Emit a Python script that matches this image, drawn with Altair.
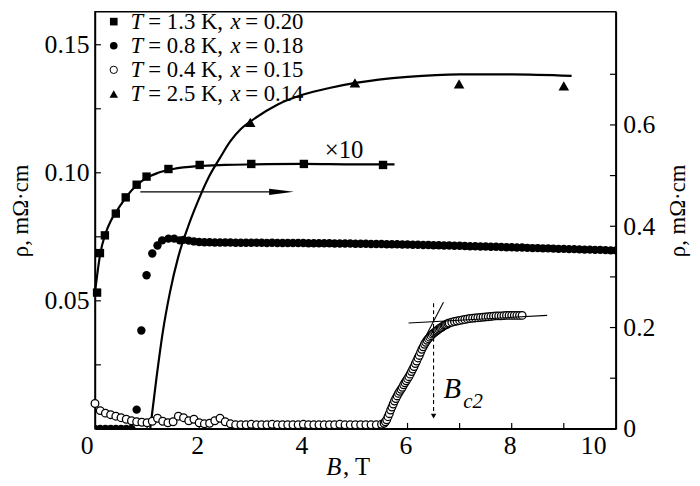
import altair as alt
import pandas as pd

FONT = "Liberation Serif"

# ---------------- data ----------------
# squares: T = 1.3 K, x = 0.20 (right axis, x10)
sq_B = [0.04, 0.095, 0.19, 0.40, 0.59, 0.80, 0.99, 1.41, 2.01, 3.00, 4.01, 5.53]
sq_rho = [0.269, 0.347, 0.382, 0.425, 0.457, 0.482, 0.498, 0.513, 0.521, 0.523, 0.523, 0.521]
sqfit_B = [0.0, 0.05, 0.1, 0.2, 0.3, 0.4, 0.5, 0.6, 0.8, 1.0, 1.2, 1.5, 2.0, 2.5, 3.0, 4.0, 5.0, 5.75]
sqfit_rho = [0.27, 0.31, 0.345, 0.385, 0.41, 0.427, 0.443, 0.458, 0.481, 0.496, 0.505, 0.513,
             0.519, 0.521, 0.522, 0.523, 0.522, 0.522]

# triangles: T = 2.5 K, x = 0.14 (right axis)
tri_B = [2.98, 4.99, 6.99, 9.00]
tri_rho = [0.605, 0.683, 0.681, 0.677]
trifit_B = [1.06, 1.18, 1.3, 1.44, 1.6, 1.79, 2.0, 2.2, 2.4, 2.6, 2.8, 3.0, 3.5, 4.0, 4.5,
            5.0, 6.0, 7.0, 8.0, 9.15]
trifit_rho = [0.0, 0.10, 0.19, 0.27, 0.34, 0.40, 0.455, 0.50, 0.535, 0.568, 0.592, 0.608,
              0.640, 0.660, 0.673, 0.683, 0.695, 0.700, 0.700, 0.697]

# filled circles: T = 0.8 K, x = 0.18 (left axis)
fc_B_early = [0.0, 0.1, 0.2, 0.3, 0.4, 0.5, 0.6, 0.7, 0.80, 0.89, 0.99, 1.10, 1.20, 1.29, 1.41, 1.52, 1.63]
fc_rho_early = [0, 0, 0, 0, 0, 0, 0, 0, 0.0075, 0.0384, 0.060, 0.0685, 0.0716, 0.0736, 0.0743, 0.0743, 0.0736]
fc_rho_band = [
    0.0738, 0.0735, 0.0732, 0.0730, 0.0729, 0.0729, 0.0728, 0.0728, 0.0728, 0.0728,
    0.0727, 0.0727, 0.0727, 0.0727, 0.0727, 0.0727, 0.0726, 0.0727, 0.0726, 0.0726,
    0.0726, 0.0726, 0.0726, 0.0726, 0.0725, 0.0725, 0.0725, 0.0725, 0.0725, 0.0724,
    0.0724, 0.0724, 0.0724, 0.0723, 0.0723, 0.0723, 0.0722, 0.0722, 0.0722, 0.0721,
    0.0721, 0.0721, 0.0720, 0.0720, 0.0719, 0.0719, 0.0718, 0.0718, 0.0717, 0.0717,
    0.0716, 0.0716, 0.0715, 0.0715, 0.0714, 0.0713, 0.0713, 0.0712, 0.0712, 0.0711,
    0.0711, 0.0710, 0.0709, 0.0709, 0.0708, 0.0708, 0.0707, 0.0706, 0.0706, 0.0705,
    0.0705, 0.0704, 0.0703, 0.0703, 0.0702, 0.0702, 0.0701, 0.0700, 0.0700, 0.0699,
    0.0699, 0.0698, 0.0697, 0.0697]
fc_B_band = [round(1.7 + 0.1 * i, 2) for i in range(len(fc_rho_band))]

# open circles: T = 0.4 K, x = 0.15 (right axis)
oc_rho_low = [
    0.050, 0.036, 0.031, 0.028, 0.025, 0.022, 0.019, 0.016, 0.014, 0.013,
    0.012, 0.015, 0.021, 0.015, 0.012, 0.014, 0.025, 0.022, 0.016, 0.019,
    0.012, 0.010, 0.011, 0.016, 0.021, 0.014, 0.010, 0.008, 0.008, 0.008,
    0.009, 0.008, 0.008, 0.008, 0.009, 0.008, 0.008, 0.008, 0.008, 0.008,
    0.009, 0.008, 0.008, 0.008, 0.008, 0.008, 0.008, 0.009, 0.008, 0.008,
    0.008, 0.008, 0.008, 0.008, 0.008, 0.009]
oc_B_low = [round(0.1 * i, 2) for i in range(len(oc_rho_low))]
oc_rho_rise_a = [
    0.011, 0.014, 0.018, 0.024, 0.030, 0.037, 0.043, 0.049, 0.055, 0.060,
    0.065, 0.070, 0.074, 0.078, 0.082, 0.087, 0.091, 0.095, 0.099, 0.103,
    0.108, 0.113, 0.118, 0.123, 0.129, 0.134, 0.140, 0.145, 0.151, 0.157,
    0.162, 0.167, 0.171, 0.175, 0.178, 0.181, 0.184, 0.187, 0.189, 0.191,
    0.193, 0.195, 0.197, 0.199, 0.200, 0.202, 0.204, 0.205, 0.206, 0.208,
    0.209]
oc_B_rise_a = [round(5.55 + 0.025 * i, 3) for i in range(len(oc_rho_rise_a))]
oc_rho_rise_b = [
    0.2105, 0.212, 0.213, 0.214, 0.215, 0.216, 0.217, 0.218, 0.2185, 0.219,
    0.2195, 0.220, 0.2205, 0.221, 0.2215, 0.222, 0.2225, 0.223, 0.223, 0.223,
    0.2235, 0.224, 0.224, 0.224, 0.224, 0.224, 0.224, 0.224]
oc_B_rise_b = [round(6.85 + 0.05 * i, 2) for i in range(len(oc_rho_rise_b))]

# Bc2 construction
tan_B = [6.02, 8.68]
tan_rho = [0.209, 0.224]
slope_B = [6.34, 6.69]
slope_rho = [0.181, 0.250]
bc2_B = 6.50
bc2_rho = [0.248, 0.03]

# legend text
leg_T = ["1.3", "0.8", "0.4", "2.5"]
leg_x = ["0.20", "0.18", "0.15", "0.14"]
leg_shape = ["square", "circle", "circle", "triangle-up"]
leg_filled = [True, True, False, True]

x_ticks = [0, 2, 4, 6, 8, 10]
x_minor = [1, 3, 5, 7, 9]
yl_ticks = [0.05, 0.10, 0.15]
yl_minor = [0.025, 0.075, 0.125]
yr_ticks = [0, 0.2, 0.4, 0.6]
yr_minor = [0.1, 0.3, 0.5, 0.7]

# ---------------- layout ----------------
W, H = 527, 422
XS = alt.Scale(domain=[0, 10], nice=False, zero=False)
YL = alt.Scale(domain=[0, 0.1629], nice=False, zero=False)
YR = alt.Scale(domain=[0, 0.8235], nice=False, zero=False)

common_ax = dict(ticks=False, grid=False, labelFont=FONT, labelFontSize=26, labelColor="black",
                 domainColor="black", domainWidth=1.5)
XA = alt.Axis(values=x_ticks, format="d", labelPadding=4, title=None,
              labelAlign={"condition": {"test": "datum.value == 0 || datum.value == 10", "value": "right"},
                          "value": "center"},
              labelOffset={"condition": {"test": "datum.value == 10", "value": -10}, "value": -2},
              labelFlush=False, **common_ax)
ytitle = dict(title="ρ, mΩ·cm", titleFont=FONT, titleFontSize=23, titleFontWeight="normal",
              titleColor="black", titleAngle=270, titleAlign="center", titleBaseline="alphabetic",
              titleY=201)
YLA = alt.Axis(orient="left", values=yl_ticks, format=".2f", labelPadding=6, titleX=-68,
               **ytitle, **common_ax)
YRA = alt.Axis(orient="right", values=yr_ticks, labelPadding=7, titleX=69,
               labelExpr="datum.value == 0 ? '0' : format(datum.value, '.1f')",
               **ytitle, **common_ax)


def ex(f):
    return alt.X(f"{f}:Q", scale=XS, axis=XA)


def eyl(f):
    return alt.Y(f"{f}:Q", scale=YL, axis=YLA)


def eyr(f):
    return alt.Y(f"{f}:Q", scale=YR, axis=YRA)


one = pd.DataFrame({"k": [0]})

# ---------------- left group ----------------
fc_df = pd.DataFrame({"B": fc_B_early + fc_B_band, "r": fc_rho_early + fc_rho_band})
filled_c = alt.Chart(fc_df).mark_circle(size=72, color="black", opacity=1, clip=True).encode(
    x=ex("B"), y=eyl("r"))
yl_tick_df = pd.DataFrame({"t": yl_ticks + yl_minor})
yl_tick = alt.Chart(yl_tick_df).mark_rule(color="black", strokeWidth=1.2).encode(
    y=eyl("t"), x=alt.value(0), x2=alt.value(6))
x_tick_df = pd.DataFrame({"t": x_ticks[1:-1] + x_minor})
x_tick = alt.Chart(x_tick_df).mark_rule(color="black", strokeWidth=1.2).encode(
    x=ex("t"), y=alt.value(H), y2=alt.value(H - 6))
left = alt.layer(filled_c, yl_tick, x_tick)

# ---------------- right group ----------------
sqfit = alt.Chart(pd.DataFrame({"B": sqfit_B, "r": sqfit_rho})).mark_line(
    color="black", strokeWidth=2.2, interpolate="monotone").encode(x=ex("B"), y=eyr("r"))
sq = alt.Chart(pd.DataFrame({"B": sq_B, "r": sq_rho})).mark_point(
    shape="square", filled=True, size=72, color="black", opacity=1).encode(x=ex("B"), y=eyr("r"))
trifit = alt.Chart(pd.DataFrame({"B": trifit_B, "r": trifit_rho})).mark_line(
    color="black", strokeWidth=2.2, interpolate="monotone").encode(x=ex("B"), y=eyr("r"))
tri = alt.Chart(pd.DataFrame({"B": tri_B, "r": tri_rho})).mark_point(
    shape="triangle-up", filled=True, size=115, color="black", opacity=1).encode(x=ex("B"), y=eyr("r"))
oc_df = pd.DataFrame({"B": oc_B_low + oc_B_rise_a + oc_B_rise_b,
                      "r": oc_rho_low + oc_rho_rise_a + oc_rho_rise_b})
oc = alt.Chart(oc_df).mark_circle(size=60, fill="white", stroke="black", strokeWidth=1.3,
                                  opacity=1, fillOpacity=1).encode(x=ex("B"), y=eyr("r"))
tan = alt.Chart(pd.DataFrame({"B": tan_B, "r": tan_rho})).mark_line(
    color="black", strokeWidth=1.1).encode(x=ex("B"), y=eyr("r"))
slope = alt.Chart(pd.DataFrame({"B": slope_B, "r": slope_rho})).mark_line(
    color="black", strokeWidth=1.1).encode(x=ex("B"), y=eyr("r"))
dash = alt.Chart(pd.DataFrame({"B": [bc2_B, bc2_B], "r": bc2_rho})).mark_line(
    color="black", strokeWidth=1.1, strokeDash=[4, 3]).encode(x=ex("B"), y=eyr("r"))
dash_head = alt.Chart(pd.DataFrame({"B": [bc2_B], "r": [0.025]})).mark_point(
    shape="triangle-down", filled=True, size=30, color="black", opacity=1).encode(x=ex("B"), y=eyr("r"))

arrow = alt.Chart(pd.DataFrame({"B": [0.87, 3.6], "r": [0.468, 0.468]})).mark_line(
    color="black", strokeWidth=1.3).encode(x=ex("B"), y=eyr("r"))
arrow_head = alt.Chart(pd.DataFrame({"B": [3.58], "r": [0.468]})).mark_point(
    shape="M -1 -0.25 L 1 0 L -1 0.25 Z", filled=True, size=625, color="black", opacity=1).encode(
    x=ex("B"), y=eyr("r"))

times10 = alt.Chart(pd.DataFrame({"B": [4.41], "r": [0.535]})).mark_text(
    text="×10", font=FONT, fontSize=25, align="left", baseline="alphabetic", color="black").encode(
    x=ex("B"), y=eyr("r"))
bc2_B_txt = alt.Chart(pd.DataFrame({"B": [6.69], "r": [0.0605]})).mark_text(
    text="B", font=FONT, fontSize=29, fontStyle="italic", align="left", baseline="alphabetic",
    color="black").encode(x=ex("B"), y=eyr("r"))
bc2_sub = alt.Chart(pd.DataFrame({"B": [7.07], "r": [0.041]})).mark_text(
    text="c2", font=FONT, fontSize=21, fontStyle="italic", align="left", baseline="alphabetic",
    color="black").encode(x=ex("B"), y=eyr("r"))

yr_tick_df = pd.DataFrame({"t": yr_minor + yr_ticks[1:]})
yr_tick = alt.Chart(yr_tick_df).mark_rule(color="black", strokeWidth=1.2).encode(
    y=eyr("t"), x=alt.value(W), x2=alt.value(W - 6))


def txt(s, x, y, size=23, italic=False):
    kw = dict(text=s, font=FONT, fontSize=size, align="left", baseline="alphabetic", color="black")
    if italic:
        kw["fontStyle"] = "italic"
    return alt.Chart(one).mark_text(**kw).encode(x=alt.value(x), y=alt.value(y))


# x-axis title with italic B
xtitle = [txt("B", 234, 469, 25, True), txt(", T", 251, 469, 25)]

# legend (mixed italic)
legend = []
for i in range(4):
    cy = 10 + 24.4 * i
    if leg_filled[i]:
        sym = alt.Chart(one).mark_point(shape=leg_shape[i], filled=True, color="black", opacity=1,
                                        size=60 if leg_shape[i] != "triangle-up" else 75)
    else:
        sym = alt.Chart(one).mark_point(shape=leg_shape[i], filled=True, fill="white", stroke="black",
                                        strokeWidth=1, opacity=1, size=55)
    legend.append(sym.encode(x=alt.value(19), y=alt.value(cy)))
    by = cy + 7
    legend += [txt("T", 36, by, italic=True),
               txt("= " + leg_T[i] + " K,", 54, by),
               txt("x", 137, by, italic=True),
               txt("= " + leg_x[i], 152, by)]

right = alt.layer(sqfit, sq, trifit, tri, oc, tan, slope, dash, dash_head, arrow, arrow_head,
                  times10, bc2_B_txt, bc2_sub, yr_tick, *xtitle, *legend)

chart = alt.layer(left, right).resolve_scale(y="independent").properties(
    width=W, height=H,
    autosize=alt.AutoSizeParams(type="none"),
    padding={"left": 88, "top": 1, "right": 77, "bottom": 52},
    background="white",
).configure_view(stroke="black", strokeWidth=1.5)

chart.save("out.html", embed_options={"renderer": "svg", "actions": False})
